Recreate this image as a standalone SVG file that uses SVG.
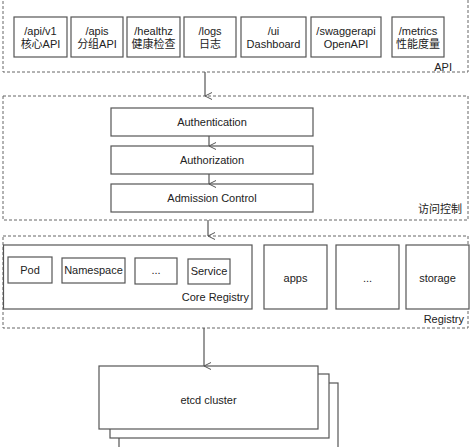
<svg xmlns="http://www.w3.org/2000/svg" width="474" height="447" viewBox="0 0 474 447">
<defs>
<style>
.box{fill:#fff;stroke:#555;stroke-width:1.2}
.dash{fill:none;stroke:#666;stroke-width:1;stroke-dasharray:3,2}
.t{font-family:"Liberation Sans","Noto Sans CJK SC",sans-serif;font-size:11px;fill:#222;text-anchor:middle}
.tr{font-family:"Liberation Sans","Noto Sans CJK SC",sans-serif;font-size:11px;fill:#222;text-anchor:end}
.c{stroke:#555;stroke-width:1.2;fill:none}
</style>
<marker id="ah" markerWidth="8" markerHeight="10" refX="4" refY="9" orient="auto" markerUnits="userSpaceOnUse">
<path d="M0.5,2 L4,9 L7.5,2" fill="none" stroke="#555" stroke-width="1"/>
</marker>
</defs>
<rect width="474" height="447" fill="#fff"/>

<g id="api-group">
<rect class="dash" x="3" y="-5" width="465" height="77"/>
<text class="tr" x="452" y="71">API</text>
</g>
<g id="api-v1"><rect class="box" x="14" y="17" width="53" height="40"/><text class="t" x="40.5" y="35">/api/v1</text><text class="t" x="40.5" y="48">核心API</text></g>
<g id="apis"><rect class="box" x="71" y="17" width="52" height="40"/><text class="t" x="97" y="35">/apis</text><text class="t" x="97" y="48">分组API</text></g>
<g id="healthz"><rect class="box" x="127" y="17" width="53" height="40"/><text class="t" x="153.5" y="35">/healthz</text><text class="t" x="153.5" y="48">健康检查</text></g>
<g id="logs"><rect class="box" x="184" y="17" width="52" height="40"/><text class="t" x="210" y="35">/logs</text><text class="t" x="210" y="48">日志</text></g>
<g id="ui"><rect class="box" x="241" y="17" width="65" height="40"/><text class="t" x="273.5" y="35">/ui</text><text class="t" x="273.5" y="48">Dashboard</text></g>
<g id="swaggerapi"><rect class="box" x="311" y="17" width="70" height="40"/><text class="t" x="346" y="35">/swaggerapi</text><text class="t" x="346" y="48">OpenAPI</text></g>
<g id="metrics"><rect class="box" x="392" y="17" width="52" height="40"/><text class="t" x="418" y="35">/metrics</text><text class="t" x="418" y="48">性能度量</text></g>

<g id="access-group">
<rect class="dash" x="3" y="96" width="465" height="124"/>
<text class="tr" x="462" y="213">访问控制</text>
</g>
<g id="authentication"><rect class="box" x="111" y="108" width="202" height="28"/><text class="t" x="212" y="126">Authentication</text></g>
<g id="authorization"><rect class="box" x="111" y="146" width="202" height="28"/><text class="t" x="212" y="164">Authorization</text></g>
<g id="admission"><rect class="box" x="111" y="184" width="202" height="28"/><text class="t" x="212" y="202">Admission Control</text></g>

<g id="registry-group">
<rect class="dash" x="3" y="236" width="465" height="92"/>
<text class="tr" x="464" y="323">Registry</text>
</g>
<g id="core-registry"><rect class="box" x="3.5" y="245" width="248.5" height="64"/><text class="tr" x="249" y="301">Core Registry</text></g>
<g id="pod"><rect class="box" x="8" y="257" width="44" height="26"/><text class="t" x="30" y="274">Pod</text></g>
<g id="namespace"><rect class="box" x="62" y="258" width="63" height="25"/><text class="t" x="93.5" y="274">Namespace</text></g>
<g id="core-more"><rect class="box" x="135" y="258" width="42" height="26"/><text class="t" x="156" y="274">...</text></g>
<g id="service"><rect class="box" x="188" y="259" width="42" height="25"/><text class="t" x="209" y="275">Service</text></g>
<g id="apps"><rect class="box" x="264" y="245" width="63" height="64"/><text class="t" x="295.5" y="282">apps</text></g>
<g id="reg-more"><rect class="box" x="336" y="245" width="63" height="64"/><text class="t" x="367.5" y="282">...</text></g>
<g id="storage"><rect class="box" x="406" y="245" width="63" height="64"/><text class="t" x="437.5" y="282">storage</text></g>

<g id="etcd">
<rect class="box" x="119" y="383" width="219" height="80"/>
<rect class="box" x="110" y="374" width="219" height="64"/>
<rect class="box" x="99" y="366" width="219" height="63"/>
<text class="t" x="208.5" y="404">etcd cluster</text>
</g>

<g id="connectors">
<line class="c" x1="205" y1="72" x2="205" y2="96" marker-end="url(#ah)"/>
<line class="c" x1="209" y1="136" x2="209" y2="146" marker-end="url(#ah)"/>
<line class="c" x1="209" y1="174" x2="209" y2="184" marker-end="url(#ah)"/>
<line class="c" x1="208" y1="220" x2="208" y2="236" marker-end="url(#ah)"/>
<line class="c" x1="204" y1="328" x2="204" y2="366" marker-end="url(#ah)"/>
</g>
</svg>
